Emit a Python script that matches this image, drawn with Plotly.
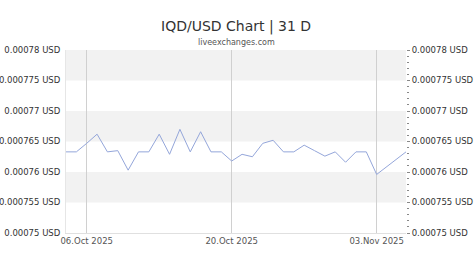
import plotly.graph_objects as go
import pandas as pd

dates = list(pd.date_range("2025-10-04", "2025-11-03", freq="D").strftime("%Y-%m-%d")) + ["2025-11-05 20:00"]
rates = [0.0007633, 0.0007633, 0.0007647, 0.0007662, 0.0007633, 0.0007635, 0.0007603,
         0.0007633, 0.0007633, 0.0007662, 0.0007629, 0.0007670, 0.0007633, 0.0007666,
         0.0007633, 0.0007633, 0.0007618, 0.0007629, 0.0007625, 0.0007647, 0.0007652,
         0.0007633, 0.0007633, 0.0007644, 0.0007635, 0.0007626, 0.0007633, 0.0007616,
         0.0007633, 0.0007633, 0.0007596, 0.0007633]

y_ticks = [0.00075, 0.000755, 0.00076, 0.000765, 0.00077, 0.000775, 0.00078]
y_labels = ["0.00075 USD", "0.000755 USD", "0.00076 USD", "0.000765 USD",
            "0.00077 USD", "0.000775 USD", "0.00078 USD"]
x_ticks = ["2025-10-06", "2025-10-20", "2025-11-03"]
x_labels = ["06.Oct 2025", "20.Oct 2025", "03.Nov 2025"]

yr = [y_ticks[0], y_ticks[-1]]

fig = go.Figure()
fig.add_trace(go.Scatter(x=dates, y=rates, mode="lines",
                         line=dict(color="#94a6da", width=1), hoverinfo="skip",
                         showlegend=False))
fig.add_trace(go.Scatter(x=[dates[0]], y=[rates[0]], yaxis="y2", mode="lines",
                         opacity=0, showlegend=False, hoverinfo="skip"))

shapes = []
for i in range(1, len(y_ticks) - 1, 2):
    shapes.append(dict(type="rect", xref="paper", yref="y", x0=0, x1=1,
                       y0=y_ticks[i], y1=y_ticks[i + 1], fillcolor="#f2f2f2",
                       line=dict(width=0), layer="below"))

fig.update_layout(
    width=474, height=266,
    margin=dict(l=66, r=68, t=50, b=33),
    paper_bgcolor="white", plot_bgcolor="white",
    font=dict(family="DejaVu Sans", size=8.5, color="#444"),
    shapes=shapes,
    annotations=[
        dict(text="IQD/USD Chart | 31 D", xref="paper", yref="paper", x=0.5, y=1,
             yshift=24, showarrow=False, font=dict(size=14, color="#333"),
             xanchor="center", yanchor="middle"),
        dict(text="liveexchanges.com", xref="paper", yref="paper", x=0.5, y=1,
             yshift=8, showarrow=False, font=dict(size=8, color="#555"),
             xanchor="center", yanchor="middle"),
    ],
    xaxis=dict(type="date", range=[dates[0], dates[-1]], tickvals=x_ticks,
               ticktext=x_labels, showgrid=True, gridcolor="#d0d0d0", gridwidth=1,
               showline=True, linecolor="#e0e0e0", ticks="", zeroline=False,
               automargin=False, tickfont=dict(size=8.5, color="#555")),
    yaxis=dict(range=yr, tickvals=y_ticks, ticktext=y_labels, showgrid=False,
               zeroline=False, showline=True, linecolor="#e6e6e6", ticks="",
               automargin=False, tickfont=dict(size=8.5, color="#333"),
               ticklabelstandoff=3),
    yaxis2=dict(range=yr, overlaying="y", side="right", tickvals=y_ticks,
                ticktext=y_labels, showgrid=False, zeroline=False,
                ticks="outside", ticklen=3, tickcolor="#888", automargin=False,
                minor=dict(dtick=0.000001, ticks="outside", ticklen=2, tickcolor="#888"),
                tickfont=dict(size=8.5, color="#333")),
)

fig.write_html("out.html")
